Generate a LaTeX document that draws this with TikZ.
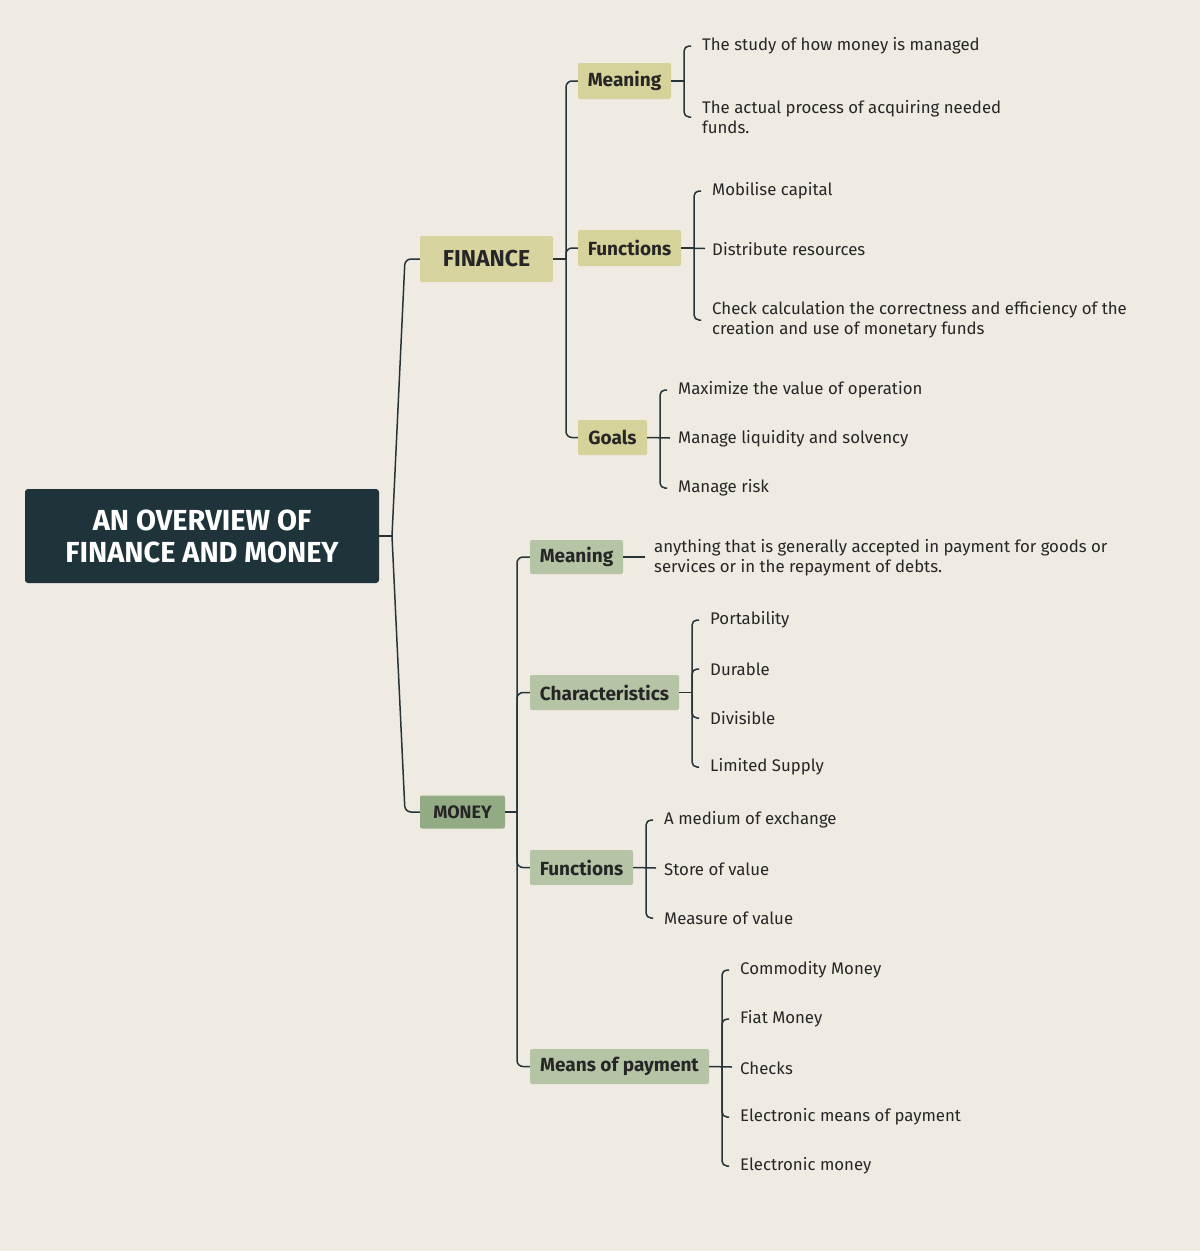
\documentclass[tikz,border=0pt]{standalone}
\usepackage{fontspec}
\setmainfont{Fira Sans}
\definecolor{bgc}{RGB}{239,235,226}
\definecolor{fin}{RGB}{216,212,160}
\definecolor{finc}{RGB}{213,210,154}
\definecolor{mon}{RGB}{147,171,132}
\definecolor{monc}{RGB}{181,196,165}
\definecolor{rootc}{RGB}{31,51,59}
\definecolor{linec}{RGB}{38,52,58}
\newcommand{\myleaves}[4]{%
  \draw[conn] (#1.east) -- (#2,#3);
  \foreach \yy/\lt in {#4}{
    \draw[conn,rounded corners=5pt] (#2,#3) -- (#2,\yy) -- ({#2+7},\yy);
    \node[leaf] at ({#2+18},\yy) {\lt};
  }}
\begin{document}
\begin{tikzpicture}[x=1pt,y=-1pt,
  conn/.style={draw=linec,line width=1.5pt,rounded corners=6pt},
  leaf/.style={anchor=west,font=\fontsize{16.8}{20}\selectfont,text=black!85,align=left,inner sep=0pt},
  fbox/.style={fill=#1,rounded corners=2pt,font=\fontsize{19}{22}\selectfont\bfseries,text=black!85,inner sep=0pt},
]
\fill[bgc] (0,0) rectangle (1200,1251);
\useasboundingbox (0,0) rectangle (1200,1251);
% root
\node[fill=rootc,rounded corners=3pt,minimum width=354pt,minimum height=94pt,text=white,
  font=\fontsize{29}{32}\selectfont\bfseries,align=center] (root) at (202,536) {AN OVERVIEW OF\\FINANCE AND MONEY};
\node[fbox=fin,minimum width=133pt,minimum height=46pt,font=\fontsize{23}{24}\selectfont\bfseries] (fin) at (486.5,259) {FINANCE};
\node[fbox=mon,minimum width=85pt,minimum height=33pt,font=\fontsize{18}{22}\selectfont\bfseries] (mon) at (462.5,812) {MONEY};
% finance children
\node[fbox=finc,minimum width=93pt,minimum height=36pt] (fm) at (624.5,81) {Meaning};
\node[fbox=finc,minimum width=103pt,minimum height=36pt] (ff) at (629.5,248) {Functions};
\node[fbox=finc,minimum width=69pt,minimum height=35pt] (fg) at (612.5,437.5) {Goals};
% money children
\node[fbox=monc,minimum width=93pt,minimum height=34pt] (mm) at (576.5,557) {Meaning};
\node[fbox=monc,minimum width=149pt,minimum height=35pt] (mc) at (604.5,692.5) {Characteristics};
\node[fbox=monc,minimum width=103pt,minimum height=35pt] (mf) at (581.5,867.5) {Functions};
\node[fbox=monc,minimum width=179pt,minimum height=35pt] (mp) at (619.5,1066.5) {Means of payment};
% trunk
\coordinate (rj) at (392,536);
\draw[conn] (root.east) -- (rj);
\draw[conn] (rj) -- (405,259) -- (fin.west);
\draw[conn] (rj) -- (405,812) -- (mon.west);
\coordinate (fj) at (566,259);
\draw[conn] (fin.east) -- (fj);
\draw[conn] (fj) -- (566,81) -- (fm.west);
\draw[conn] (fj) -- (566,248) -- (ff.west);
\draw[conn] (fj) -- (566,437.5) -- (fg.west);
\coordinate (mj) at (517,812);
\draw[conn] (mon.east) -- (mj);
\draw[conn] (mj) -- (517,557) -- (mm.west);
\draw[conn] (mj) -- (517,692.5) -- (mc.west);
\draw[conn] (mj) -- (517,867.5) -- (mf.west);
\draw[conn] (mj) -- (517,1066.5) -- (mp.west);
% leaves
\myleaves{fm}{684}{81}{46/The study of how money is managed,117/{The actual process of acquiring needed\\funds.}}
\myleaves{ff}{694}{248}{191/Mobilise capital,320/{Check calculation the correctness and efficiency of the\\creation and use of monetary funds}}
\draw[conn] (ff.east) -- (705,248.5);
\node[leaf] at (712,249) {Distribute resources};
\myleaves{fg}{660}{437.5}{390/Maximize the value of operation,488/Manage risk}
\draw[conn] (fg.east) -- (670,438);
\node[leaf] at (678,439) {Manage liquidity and solvency};
\draw[conn] (mm.east) -- (645,557);
\node[leaf] (mmt) at (654,558) {anything that is generally accepted in payment for goods or\\services or in the repayment of debts.};
\myleaves{mc}{692}{692.5}{620/Portability,669/Durable,718/Divisible,767/Limited Supply}
\myleaves{mf}{646}{867.5}{820/A medium of exchange,918/Measure of value}
\draw[conn] (mf.east) -- (656,868);
\node[leaf] at (664,869) {Store of value};
\myleaves{mp}{722}{1066.5}{970/Commodity Money,1019/Fiat Money,1117/Electronic means of payment,1166/Electronic money}
\draw[conn] (mp.east) -- (732,1067);
\node[leaf] at (740,1068) {Checks};
\end{tikzpicture}
\end{document}
